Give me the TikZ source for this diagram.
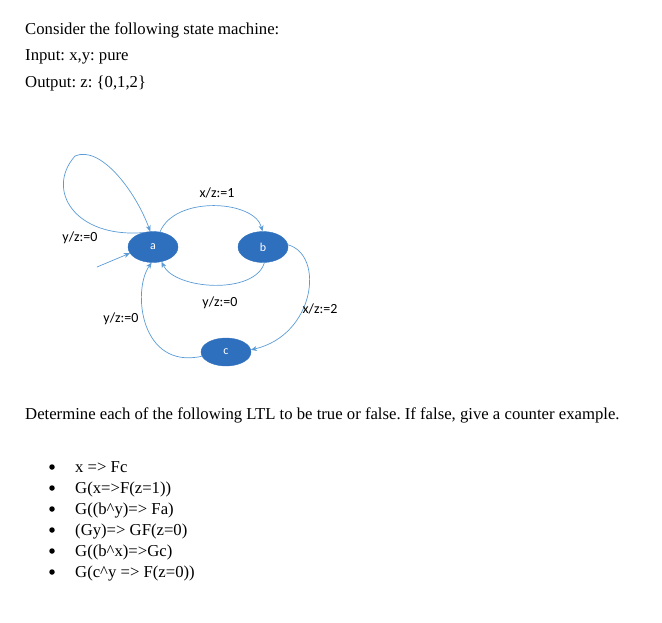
\documentclass[tikz,border=0pt]{standalone}
\usepackage{fontspec}
\setmainfont{Liberation Serif}
\newfontfamily\labfont{Carlito}
\usetikzlibrary{shapes.geometric,arrows.meta}
\definecolor{nodeblue}{RGB}{46,112,190}
\definecolor{edgeblue}{RGB}{91,155,213}
\frenchspacing
\begin{document}
\begin{tikzpicture}[x=1pt,y=-1pt,
  txt/.style={anchor=base west,inner sep=0pt,font=\fontsize{16.7}{20}\selectfont},
  state/.style={ellipse,fill=nodeblue,draw=nodeblue,minimum width=50pt,minimum height=31pt,inner sep=0pt,text=white,font=\labfont\fontsize{12}{14}\selectfont},
  lab/.style={inner sep=0pt,font=\labfont\fontsize{14}{16}\selectfont},
  edge/.style={draw=edgeblue,line width=0.7pt,-{Stealth[length=6pt,width=5pt]}},
  bul/.style={circle,fill=black,inner sep=0pt,minimum size=5.5pt}]
\useasboundingbox (0,0) rectangle (662,622);
\node[txt] (t1) at (25,34) {Consider the following state machine:};
\node[txt] (t2) at (25,60) {Input: x,y: pure};
\node[txt] (t3) at (25,87) {Output: z: \{0,1,2\}};
\node[state] (a) at (153,247) {a};
\node[state] (b) at (263,247) {b};
\node[state,minimum height=28pt] (c) at (226,352) {c};
\coordinate (in) at (97,267);
\coordinate (lt) at (75,156);
\draw[draw=edgeblue,line width=0.7pt] (a.125) .. controls (75,238) and (45,190) .. (lt);
\draw[edge] (lt) .. controls (100,145) and (135,190) .. (a.100);
\draw[edge] (in) -- (a.195);
\draw[edge] (a.65) .. controls (175,195) and (255,200) .. (b.92);
\draw[edge] (b.-85) .. controls (255,295) and (175,290) .. (a.-60);
\draw[edge] (b.5) .. controls (325,255) and (315,335) .. (c.5);
\draw[edge] (c.190) .. controls (140,370) and (132,290) .. (a.-95);
\node[lab] (l1) at (217,193) {x/z:=1};
\node[lab] (l2) at (80,238) {y/z:=0};
\node[lab] (l3) at (220,303) {y/z:=0};
\node[lab] (l4) at (320,309) {x/z:=2};
\node[lab] (l5) at (121,319) {y/z:=0};
\node[txt] (t4) at (25,419) {Determine each of the following LTL to be true or false. If false, give a counter example.};
\foreach \i/\s in {0/{x => Fc},1/{G(x=>F(z=1))},2/{G((b\^{}y)=> Fa)},3/{(Gy)=> GF(z=0)},4/{G((b\^{}x)=>Gc)},5/{G(c\^{}y => F(z=0))}}{
  \node[bul] (b\i) at (52,{467+21*\i}) {};
  \node[txt] (e\i) at (75,{472+21*\i}) {\s};
}
\end{tikzpicture}
\end{document}
